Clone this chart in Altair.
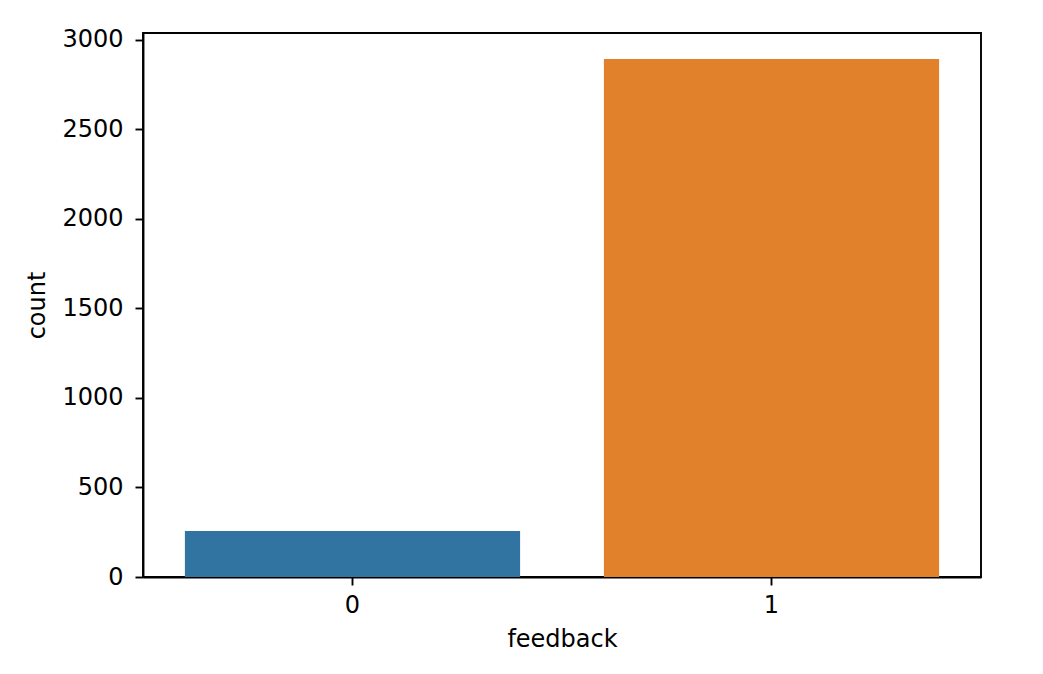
import altair as alt
import pandas as pd

categories = ["0", "1"]
counts = [257, 2893]
colors = ["#3274a1", "#e1812c"]
y_ticks = [0, 500, 1000, 1500, 2000, 2500, 3000]

df = pd.DataFrame({"feedback": categories, "count": counts})

FONT = "DejaVu Sans"
FS = 24

chart = (
    alt.Chart(df)
    .mark_bar()
    .encode(
        x=alt.X(
            "feedback:N",
            title="feedback",
            sort=categories,
            scale=alt.Scale(paddingInner=0.2, paddingOuter=0.1),
            axis=alt.Axis(
                labelAngle=0,
                labelFont=FONT,
                labelFontSize=FS,
                labelColor="#000000",
                titleFont=FONT,
                titleFontSize=FS,
                titleFontWeight="normal",
                titleColor="#000000",
                tickSize=8,
                tickWidth=1.9,
                tickColor="#000000",
                domainColor="#000000",
                domainWidth=1.9,
                labelPadding=8,
                titlePadding=10,
                grid=False,
            ),
        ),
        y=alt.Y(
            "count:Q",
            title="count",
            scale=alt.Scale(domain=[0, 3037.65], nice=False, zero=True),
            axis=alt.Axis(
                values=y_ticks,
                format="d",
                labelFont=FONT,
                labelFontSize=FS,
                labelColor="#000000",
                titleFont=FONT,
                titleFontSize=FS,
                titleFontWeight="normal",
                titleColor="#000000",
                tickSize=8,
                tickWidth=1.9,
                tickColor="#000000",
                domainColor="#000000",
                domainWidth=1.9,
                labelPadding=12,
                titlePadding=12,
                grid=False,
            ),
        ),
        color=alt.Color(
            "feedback:N",
            scale=alt.Scale(domain=categories, range=colors),
            legend=None,
        ),
    )
    .properties(
        width=838,
        height=544,
        autosize=alt.AutoSizeParams(type="none"),
        padding={"left": 135, "top": 25, "right": 40, "bottom": 80},
        background="#ffffff",
    )
    .configure_view(stroke="#000000", strokeWidth=1.9)
)

chart.save("out.html", embed_options={"renderer": "svg", "actions": False})
